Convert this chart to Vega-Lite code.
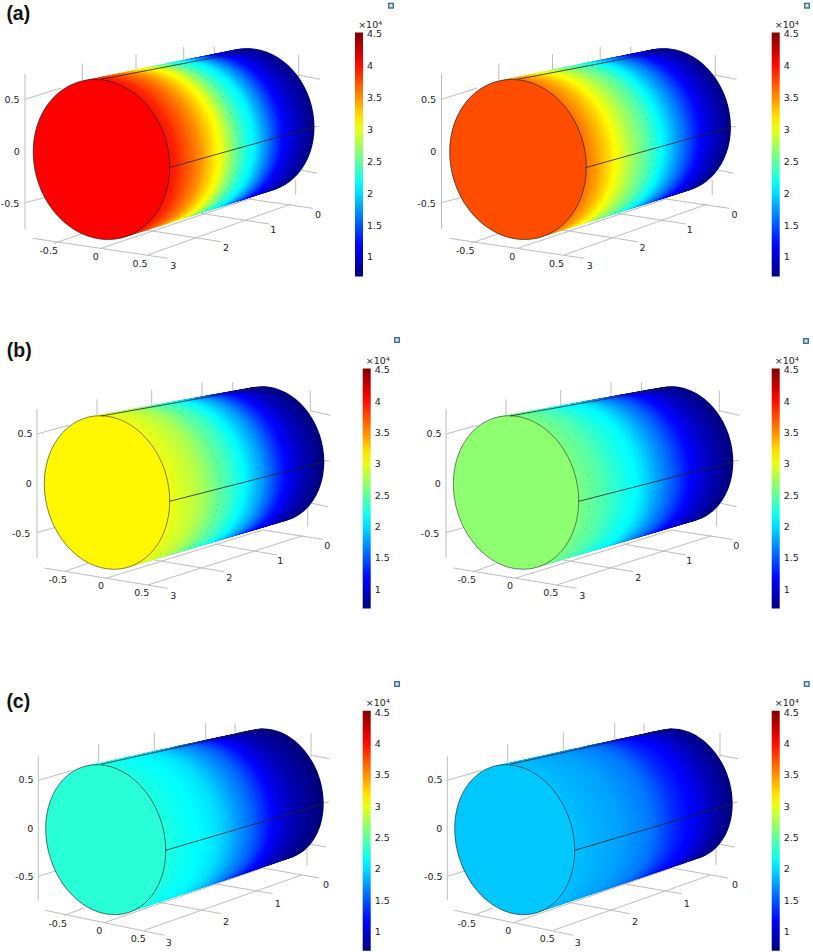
{
"$schema":"https://vega.github.io/schema/vega-lite/v6.json",
"padding":0,
"background":"white",
"spacing":0,
"resolve":{"scale":{"color":"independent","size":"independent"},"legend":{"color":"independent"}},
"config":{"view":{"stroke":null},"concat":{"spacing":0},"text":{"font":"DejaVu Sans"},"legend":{"titleFont":"DejaVu Sans","labelFont":"DejaVu Sans"}},
"datasets":{
"slices":[
{"s":0,"xa":151.5,"ya":39.3,"xb":161.8,"yb":38.3,"xc":165.5,"yc":45.6,"a1":0.72,"a2":0.72,"b1":0.68,"b2":0.7,"c1":0.67,"c2":0.7},
{"s":0.0375,"xa":149.6,"ya":38.8,"xb":159.8,"yb":37.8,"xc":163.5,"yc":45.1,"a1":0.745,"a2":0.745,"b1":0.7,"b2":0.715,"c1":0.685,"c2":0.72},
{"s":0.075,"xa":147.7,"ya":38.3,"xb":157.8,"yb":37.3,"xc":161.4,"yc":44.5,"a1":0.77,"a2":0.77,"b1":0.72,"b2":0.73,"c1":0.7,"c2":0.74},
{"s":0.1125,"xa":145.8,"ya":37.8,"xb":155.8,"yb":36.9,"xc":159.3,"yc":43.9,"a1":0.795,"a2":0.795,"b1":0.745,"b2":0.75,"c1":0.715,"c2":0.76},
{"s":0.15,"xa":143.9,"ya":37.3,"xb":153.7,"yb":36.4,"xc":157.2,"yc":43.3,"a1":0.82,"a2":0.82,"b1":0.77,"b2":0.77,"c1":0.73,"c2":0.78},
{"s":0.1875,"xa":142,"ya":36.8,"xb":151.7,"yb":35.9,"xc":155.2,"yc":42.8,"a1":0.845,"a2":0.85,"b1":0.79,"b2":0.79,"c1":0.745,"c2":0.8},
{"s":0.225,"xa":140.1,"ya":36.3,"xb":149.7,"yb":35.4,"xc":153.1,"yc":42.2,"a1":0.87,"a2":0.88,"b1":0.81,"b2":0.81,"c1":0.76,"c2":0.82},
{"s":0.2625,"xa":138.3,"ya":35.8,"xb":147.7,"yb":35,"xc":151,"yc":41.6,"a1":0.895,"a2":0.905,"b1":0.835,"b2":0.83,"c1":0.775,"c2":0.845},
{"s":0.3,"xa":136.4,"ya":35.3,"xb":145.6,"yb":34.5,"xc":149,"yc":41,"a1":0.92,"a2":0.93,"b1":0.86,"b2":0.85,"c1":0.79,"c2":0.87},
{"s":0.3375,"xa":134.5,"ya":34.8,"xb":143.6,"yb":34,"xc":146.9,"yc":40.5,"a1":0.945,"a2":0.955,"b1":0.88,"b2":0.87,"c1":0.805,"c2":0.89},
{"s":0.375,"xa":132.6,"ya":34.3,"xb":141.6,"yb":33.5,"xc":144.8,"yc":39.9,"a1":0.97,"a2":0.98,"b1":0.9,"b2":0.89,"c1":0.82,"c2":0.91},
{"s":0.4125,"xa":130.7,"ya":33.9,"xb":139.6,"yb":33.1,"xc":142.8,"yc":39.3,"a1":1,"a2":1.015,"b1":0.925,"b2":0.91,"c1":0.835,"c2":0.935},
{"s":0.45,"xa":128.8,"ya":33.4,"xb":137.5,"yb":32.6,"xc":140.7,"yc":38.8,"a1":1.03,"a2":1.05,"b1":0.95,"b2":0.93,"c1":0.85,"c2":0.96},
{"s":0.4875,"xa":126.9,"ya":32.9,"xb":135.5,"yb":32.1,"xc":138.6,"yc":38.2,"a1":1.06,"a2":1.08,"b1":0.98,"b2":0.955,"c1":0.865,"c2":0.985},
{"s":0.525,"xa":125,"ya":32.4,"xb":133.5,"yb":31.6,"xc":136.5,"yc":37.6,"a1":1.09,"a2":1.11,"b1":1.01,"b2":0.98,"c1":0.88,"c2":1.01},
{"s":0.5625,"xa":123.1,"ya":31.9,"xb":131.5,"yb":31.1,"xc":134.5,"yc":37,"a1":1.125,"a2":1.14,"b1":1.045,"b2":1.005,"c1":0.9,"c2":1.035},
{"s":0.6,"xa":121.2,"ya":31.4,"xb":129.4,"yb":30.6,"xc":132.4,"yc":36.5,"a1":1.16,"a2":1.17,"b1":1.08,"b2":1.03,"c1":0.92,"c2":1.06},
{"s":0.6375,"xa":119.3,"ya":30.9,"xb":127.4,"yb":30.2,"xc":130.3,"yc":35.9,"a1":1.2,"a2":1.21,"b1":1.115,"b2":1.055,"c1":0.945,"c2":1.085},
{"s":0.675,"xa":117.4,"ya":30.4,"xb":125.4,"yb":29.7,"xc":128.3,"yc":35.3,"a1":1.24,"a2":1.25,"b1":1.15,"b2":1.08,"c1":0.97,"c2":1.11},
{"s":0.7125,"xa":115.5,"ya":29.9,"xb":123.4,"yb":29.2,"xc":126.2,"yc":34.8,"a1":1.3,"a2":1.295,"b1":1.185,"b2":1.11,"c1":0.995,"c2":1.135},
{"s":0.75,"xa":113.6,"ya":29.4,"xb":121.4,"yb":28.7,"xc":124.1,"yc":34.2,"a1":1.36,"a2":1.34,"b1":1.22,"b2":1.14,"c1":1.02,"c2":1.16},
{"s":0.7875,"xa":111.7,"ya":29,"xb":119.3,"yb":28.3,"xc":122,"yc":33.6,"a1":1.41,"a2":1.385,"b1":1.26,"b2":1.165,"c1":1.045,"c2":1.175},
{"s":0.825,"xa":109.8,"ya":28.5,"xb":117.3,"yb":27.8,"xc":120,"yc":33.1,"a1":1.46,"a2":1.43,"b1":1.3,"b2":1.19,"c1":1.07,"c2":1.19},
{"s":0.8625,"xa":108,"ya":28,"xb":115.3,"yb":27.3,"xc":118,"yc":32.5,"a1":1.52,"a2":1.475,"b1":1.345,"b2":1.225,"c1":1.1,"c2":1.21},
{"s":0.9,"xa":106.1,"ya":27.5,"xb":113.3,"yb":26.8,"xc":115.9,"yc":31.9,"a1":1.58,"a2":1.52,"b1":1.39,"b2":1.26,"c1":1.13,"c2":1.23},
{"s":0.9375,"xa":104.2,"ya":27,"xb":111.2,"yb":26.4,"xc":113.8,"yc":31.4,"a1":1.64,"a2":1.57,"b1":1.44,"b2":1.295,"c1":1.165,"c2":1.25},
{"s":0.975,"xa":102.3,"ya":26.5,"xb":109.2,"yb":25.9,"xc":111.7,"yc":30.8,"a1":1.7,"a2":1.62,"b1":1.49,"b2":1.33,"c1":1.2,"c2":1.27},
{"s":1.0125,"xa":100.4,"ya":26,"xb":107.2,"yb":25.4,"xc":109.6,"yc":30.2,"a1":1.75,"a2":1.66,"b1":1.54,"b2":1.37,"c1":1.235,"c2":1.29},
{"s":1.05,"xa":98.5,"ya":25.5,"xb":105.2,"yb":24.9,"xc":107.6,"yc":29.6,"a1":1.8,"a2":1.7,"b1":1.59,"b2":1.41,"c1":1.27,"c2":1.31},
{"s":1.0875,"xa":96.6,"ya":25,"xb":103.1,"yb":24.4,"xc":105.5,"yc":29.1,"a1":1.86,"a2":1.745,"b1":1.635,"b2":1.45,"c1":1.31,"c2":1.33},
{"s":1.125,"xa":94.7,"ya":24.5,"xb":101.1,"yb":23.9,"xc":103.4,"yc":28.5,"a1":1.92,"a2":1.79,"b1":1.68,"b2":1.49,"c1":1.35,"c2":1.35},
{"s":1.1625,"xa":92.8,"ya":24.1,"xb":99.1,"yb":23.5,"xc":101.4,"yc":28,"a1":1.985,"a2":1.835,"b1":1.73,"b2":1.525,"c1":1.385,"c2":1.375},
{"s":1.2,"xa":90.9,"ya":23.6,"xb":97.1,"yb":23,"xc":99.3,"yc":27.4,"a1":2.05,"a2":1.88,"b1":1.78,"b2":1.56,"c1":1.42,"c2":1.4},
{"s":1.2375,"xa":89,"ya":23.1,"xb":95,"yb":22.5,"xc":97.2,"yc":26.8,"a1":2.09,"a2":1.925,"b1":1.815,"b2":1.59,"c1":1.46,"c2":1.43},
{"s":1.275,"xa":87.1,"ya":22.6,"xb":93,"yb":22,"xc":95.2,"yc":26.2,"a1":2.13,"a2":1.97,"b1":1.85,"b2":1.62,"c1":1.5,"c2":1.46},
{"s":1.3125,"xa":85.2,"ya":22.1,"xb":91,"yb":21.6,"xc":93.1,"yc":25.7,"a1":2.165,"a2":2.015,"b1":1.89,"b2":1.655,"c1":1.535,"c2":1.485},
{"s":1.35,"xa":83.3,"ya":21.6,"xb":89,"yb":21.1,"xc":91,"yc":25.1,"a1":2.2,"a2":2.06,"b1":1.93,"b2":1.69,"c1":1.57,"c2":1.51},
{"s":1.3875,"xa":81.4,"ya":21.1,"xb":87,"yb":20.6,"xc":89,"yc":24.5,"a1":2.24,"a2":2.1,"b1":1.97,"b2":1.72,"c1":1.595,"c2":1.535},
{"s":1.425,"xa":79.5,"ya":20.6,"xb":84.9,"yb":20.1,"xc":86.9,"yc":23.9,"a1":2.28,"a2":2.14,"b1":2.01,"b2":1.75,"c1":1.62,"c2":1.56},
{"s":1.4625,"xa":77.7,"ya":20.1,"xb":82.9,"yb":19.7,"xc":84.8,"yc":23.4,"a1":2.33,"a2":2.18,"b1":2.05,"b2":1.785,"c1":1.65,"c2":1.585},
{"s":1.5,"xa":75.8,"ya":19.6,"xb":80.9,"yb":19.2,"xc":82.8,"yc":22.8,"a1":2.38,"a2":2.22,"b1":2.09,"b2":1.82,"c1":1.68,"c2":1.61},
{"s":1.5375,"xa":73.9,"ya":19.1,"xb":78.9,"yb":18.7,"xc":80.7,"yc":22.2,"a1":2.435,"a2":2.265,"b1":2.125,"b2":1.855,"c1":1.705,"c2":1.625},
{"s":1.575,"xa":72,"ya":18.6,"xb":76.9,"yb":18.2,"xc":78.6,"yc":21.7,"a1":2.49,"a2":2.31,"b1":2.16,"b2":1.89,"c1":1.73,"c2":1.64},
{"s":1.6125,"xa":70.1,"ya":18.2,"xb":74.8,"yb":17.7,"xc":76.6,"yc":21.1,"a1":2.545,"a2":2.35,"b1":2.19,"b2":1.925,"c1":1.755,"c2":1.65},
{"s":1.65,"xa":68.2,"ya":17.7,"xb":72.8,"yb":17.2,"xc":74.5,"yc":20.5,"a1":2.6,"a2":2.39,"b1":2.22,"b2":1.96,"c1":1.78,"c2":1.66},
{"s":1.6875,"xa":66.3,"ya":17.2,"xb":70.8,"yb":16.8,"xc":72.4,"yc":20,"a1":2.66,"a2":2.43,"b1":2.255,"b2":1.99,"c1":1.81,"c2":1.67},
{"s":1.725,"xa":64.4,"ya":16.7,"xb":68.8,"yb":16.3,"xc":70.3,"yc":19.4,"a1":2.72,"a2":2.47,"b1":2.29,"b2":2.02,"c1":1.84,"c2":1.68},
{"s":1.7625,"xa":62.5,"ya":16.2,"xb":66.7,"yb":15.8,"xc":68.3,"yc":18.8,"a1":2.785,"a2":2.5,"b1":2.32,"b2":2.05,"c1":1.865,"c2":1.69},
{"s":1.8,"xa":60.6,"ya":15.7,"xb":64.7,"yb":15.3,"xc":66.2,"yc":18.2,"a1":2.85,"a2":2.53,"b1":2.35,"b2":2.08,"c1":1.89,"c2":1.7},
{"s":1.8375,"xa":58.7,"ya":15.2,"xb":62.7,"yb":14.9,"xc":64.2,"yc":17.7,"a1":2.915,"a2":2.565,"b1":2.38,"b2":2.105,"c1":1.915,"c2":1.71},
{"s":1.875,"xa":56.8,"ya":14.7,"xb":60.7,"yb":14.4,"xc":62.1,"yc":17.1,"a1":2.98,"a2":2.6,"b1":2.41,"b2":2.13,"c1":1.94,"c2":1.72},
{"s":1.9125,"xa":54.9,"ya":14.2,"xb":58.6,"yb":13.9,"xc":60,"yc":16.5,"a1":3.03,"a2":2.635,"b1":2.435,"b2":2.145,"c1":1.965,"c2":1.73},
{"s":1.95,"xa":53,"ya":13.7,"xb":56.6,"yb":13.4,"xc":57.9,"yc":16,"a1":3.08,"a2":2.67,"b1":2.46,"b2":2.16,"c1":1.99,"c2":1.74},
{"s":1.9875,"xa":51.1,"ya":13.2,"xb":54.6,"yb":12.9,"xc":55.9,"yc":15.4,"a1":3.115,"a2":2.705,"b1":2.485,"b2":2.175,"c1":2.01,"c2":1.75},
{"s":2.025,"xa":49.2,"ya":12.8,"xb":52.6,"yb":12.4,"xc":53.8,"yc":14.8,"a1":3.15,"a2":2.74,"b1":2.51,"b2":2.19,"c1":2.03,"c2":1.76},
{"s":2.0625,"xa":47.3,"ya":12.3,"xb":50.5,"yb":12,"xc":51.7,"yc":14.2,"a1":3.195,"a2":2.775,"b1":2.54,"b2":2.205,"c1":2.04,"c2":1.77},
{"s":2.1,"xa":45.5,"ya":11.8,"xb":48.5,"yb":11.5,"xc":49.7,"yc":13.7,"a1":3.24,"a2":2.81,"b1":2.57,"b2":2.22,"c1":2.05,"c2":1.78},
{"s":2.1375,"xa":43.6,"ya":11.3,"xb":46.5,"yb":11,"xc":47.6,"yc":13.1,"a1":3.28,"a2":2.85,"b1":2.6,"b2":2.24,"c1":2.065,"c2":1.785},
{"s":2.175,"xa":41.7,"ya":10.8,"xb":44.5,"yb":10.5,"xc":45.5,"yc":12.5,"a1":3.32,"a2":2.89,"b1":2.63,"b2":2.26,"c1":2.08,"c2":1.79},
{"s":2.2125,"xa":39.8,"ya":10.3,"xb":42.5,"yb":10,"xc":43.5,"yc":12,"a1":3.36,"a2":2.925,"b1":2.66,"b2":2.275,"c1":2.09,"c2":1.795},
{"s":2.25,"xa":37.9,"ya":9.8,"xb":40.5,"yb":9.6,"xc":41.4,"yc":11.4,"a1":3.4,"a2":2.96,"b1":2.69,"b2":2.29,"c1":2.1,"c2":1.8},
{"s":2.2875,"xa":36,"ya":9.3,"xb":38.4,"yb":9.1,"xc":39.3,"yc":10.8,"a1":3.445,"a2":3,"b1":2.72,"b2":2.31,"c1":2.11,"c2":1.805},
{"s":2.325,"xa":34.1,"ya":8.8,"xb":36.4,"yb":8.6,"xc":37.2,"yc":10.3,"a1":3.49,"a2":3.04,"b1":2.75,"b2":2.33,"c1":2.12,"c2":1.81},
{"s":2.3625,"xa":32.2,"ya":8.3,"xb":34.4,"yb":8.2,"xc":35.2,"yc":9.7,"a1":3.52,"a2":3.075,"b1":2.775,"b2":2.35,"c1":2.125,"c2":1.815},
{"s":2.4,"xa":30.3,"ya":7.9,"xb":32.4,"yb":7.7,"xc":33.1,"yc":9.1,"a1":3.55,"a2":3.11,"b1":2.8,"b2":2.37,"c1":2.13,"c2":1.82},
{"s":2.4375,"xa":28.4,"ya":7.4,"xb":30.3,"yb":7.2,"xc":31,"yc":8.6,"a1":3.585,"a2":3.15,"b1":2.815,"b2":2.39,"c1":2.14,"c2":1.825},
{"s":2.475,"xa":26.5,"ya":6.9,"xb":28.3,"yb":6.7,"xc":29,"yc":8,"a1":3.62,"a2":3.19,"b1":2.83,"b2":2.41,"c1":2.15,"c2":1.83},
{"s":2.5125,"xa":24.6,"ya":6.4,"xb":26.3,"yb":6.2,"xc":26.9,"yc":7.4,"a1":3.65,"a2":3.225,"b1":2.85,"b2":2.43,"c1":2.155,"c2":1.835},
{"s":2.55,"xa":22.7,"ya":5.9,"xb":24.3,"yb":5.7,"xc":24.8,"yc":6.8,"a1":3.68,"a2":3.26,"b1":2.87,"b2":2.45,"c1":2.16,"c2":1.84},
{"s":2.5875,"xa":20.8,"ya":5.4,"xb":22.2,"yb":5.3,"xc":22.8,"yc":6.3,"a1":3.71,"a2":3.295,"b1":2.885,"b2":2.46,"c1":2.17,"c2":1.845},
{"s":2.625,"xa":18.9,"ya":4.9,"xb":20.2,"yb":4.8,"xc":20.7,"yc":5.7,"a1":3.74,"a2":3.33,"b1":2.9,"b2":2.47,"c1":2.18,"c2":1.85},
{"s":2.6625,"xa":17,"ya":4.4,"xb":18.2,"yb":4.3,"xc":18.6,"yc":5.1,"a1":3.77,"a2":3.365,"b1":2.915,"b2":2.485,"c1":2.185,"c2":1.855},
{"s":2.7,"xa":15.2,"ya":3.9,"xb":16.2,"yb":3.8,"xc":16.6,"yc":4.6,"a1":3.8,"a2":3.4,"b1":2.93,"b2":2.5,"c1":2.19,"c2":1.86},
{"s":2.7375,"xa":13.3,"ya":3.4,"xb":14.1,"yb":3.4,"xc":14.5,"yc":4,"a1":3.83,"a2":3.43,"b1":2.945,"b2":2.515,"c1":2.2,"c2":1.865},
{"s":2.775,"xa":11.4,"ya":2.9,"xb":12.1,"yb":2.9,"xc":12.4,"yc":3.4,"a1":3.86,"a2":3.46,"b1":2.96,"b2":2.53,"c1":2.21,"c2":1.87},
{"s":2.8125,"xa":9.5,"ya":2.4,"xb":10.1,"yb":2.4,"xc":10.4,"yc":2.9,"a1":3.89,"a2":3.49,"b1":2.975,"b2":2.54,"c1":2.215,"c2":1.875},
{"s":2.85,"xa":7.6,"ya":2,"xb":8.1,"yb":1.9,"xc":8.3,"yc":2.3,"a1":3.92,"a2":3.52,"b1":2.99,"b2":2.55,"c1":2.22,"c2":1.88},
{"s":2.8875,"xa":5.7,"ya":1.5,"xb":6,"yb":1.4,"xc":6.2,"yc":1.7,"a1":3.935,"a2":3.55,"b1":3.005,"b2":2.565,"c1":2.23,"c2":1.885},
{"s":2.925,"xa":3.8,"ya":1,"xb":4,"yb":1,"xc":4.1,"yc":1.1,"a1":3.95,"a2":3.58,"b1":3.02,"b2":2.58,"c1":2.24,"c2":1.89},
{"s":2.9625,"xa":1.9,"ya":0.5,"xb":2,"yb":0.5,"xc":2.1,"yc":0.6,"a1":3.96,"a2":3.6,"b1":3.04,"b2":2.6,"c1":2.25,"c2":1.9},
{"s":3,"xa":0,"ya":0,"xb":0,"yb":0,"xc":0,"yc":0,"a1":4.05,"a2":3.76,"b1":3.12,"b2":2.67,"c1":2.29,"c2":1.93}
],
"frameA":[
{"x":-76.5,"y":85.5,"x2":-76.5,"y2":-69.5},{"x":-19.2,"y":96.2,"x2":-19.2,"y2":79.5},{"x":34.5,"y":105.2,"x2":34.5,"y2":85.5},{"x":82.2,"y":112.8,"x2":82.2,"y2":94.5},{"x":112.8,"y":112.8,"x2":112.8,"y2":103.5},{"x":197.2,"y":104.5,"x2":197.2,"y2":79.5},{"x":194.2,"y":-20.5,"x2":194.2,"y2":-35.5},
{"x":-76.5,"y":60.2,"x2":-40.5,"y2":71.5},{"x":-76.5,"y":-43.2,"x2":-50.5,"y2":-36.5},{"x":196.5,"y":84.5,"x2":218.5,"y2":80.2},{"x":213,"y":32.8,"x2":218,"y2":32.8},{"x":194.5,"y":-9.5,"x2":215.5,"y2":-13.8},
{"x":-68.8,"y":-78.8,"x2":66.2,"y2":-98.8},{"x":99.5,"y":-53.8,"x2":167.8,"y2":-64.5},{"x":44.5,"y":-70.5,"x2":119.5,"y2":-82.2},{"x":147.5,"y":-39.5,"x2":211.2,"y2":-48.8},
{"x":-47.2,"y":-83.8,"x2":-17.5,"y2":-73.5},{"x":-0.5,"y":-88.8,"x2":149.5,"y2":-38.8},{"x":46.2,"y":-95.5,"x2":189.5,"y2":-44.5}
],
"frameB":[
{"x":-70,"y":83.2,"x2":-70,"y2":-65.8},{"x":-10,"y":93.2,"x2":-10,"y2":76.5},{"x":44.7,"y":102.5,"x2":44.7,"y2":84.2},{"x":95,"y":110.2,"x2":95,"y2":92.5},{"x":125.7,"y":110.2,"x2":125.7,"y2":100.8},{"x":203.3,"y":101.8,"x2":203.3,"y2":80.8},{"x":200.7,"y":-14.2,"x2":200.7,"y2":-34.2},
{"x":-70,"y":58.5,"x2":-37.7,"y2":67.5},{"x":-70,"y":-40.2,"x2":-49.3,"y2":-34.2},{"x":203.3,"y":81.8,"x2":223.3,"y2":77.2},{"x":217.3,"y":31.8,"x2":222.3,"y2":31.8},{"x":200.7,"y":-9.8,"x2":220.7,"y2":-14.2},
{"x":-62.7,"y":-75.5,"x2":60.7,"y2":-95.8},{"x":107.3,"y":-51.5,"x2":170,"y2":-62.5},{"x":47.3,"y":-67.5,"x2":117.3,"y2":-79.2},{"x":155.7,"y":-37.5,"x2":215.7,"y2":-46.8},
{"x":-42.7,"y":-79.2,"x2":-19.3,"y2":-70.8},{"x":-1,"y":-85.8,"x2":155.7,"y2":-37.5},{"x":40.7,"y":-92.5,"x2":195.7,"y2":-43.2}
],
"frameC":[
{"x":-67.4,"y":83.4,"x2":-67.4,"y2":-60.6},{"x":-7,"y":95.4,"x2":-7,"y2":76},{"x":48.6,"y":107,"x2":48.6,"y2":84.4},{"x":100,"y":117,"x2":100,"y2":97.7},{"x":129.3,"y":116,"x2":129.3,"y2":107.7},{"x":205.3,"y":106.7,"x2":205.3,"y2":82.7},{"x":201.3,"y":-9,"x2":201.3,"y2":-25.6},
{"x":-67.4,"y":59.4,"x2":-33,"y2":69.4},{"x":-67.4,"y":-36.6,"x2":-48,"y2":-30.6},{"x":205.3,"y":84.4,"x2":223.6,"y2":81},{"x":218,"y":37,"x2":223,"y2":37.7},{"x":201.3,"y":-4,"x2":220.3,"y2":-7.3},
{"x":-60.4,"y":-70.6,"x2":58.6,"y2":-95.6},{"x":108.6,"y":-44,"x2":167,"y2":-54},{"x":52,"y":-62.3,"x2":115.3,"y2":-74},{"x":157,"y":-28.3,"x2":213.6,"y2":-38.3},
{"x":-41.4,"y":-75.6,"x2":-21.4,"y2":-68.3},{"x":-1.4,"y":-83,"x2":157,"y2":-28.3},{"x":38.6,"y":-90.6,"x2":195.3,"y2":-35.6}
],
"edgesA":[{"x":-0.5,"y":80.2,"x2":147.5,"y2":108.5},{"x":68,"y":-8,"x2":213,"y2":32.5}],
"edgesB":[{"x":-6,"y":76.5,"x2":155.7,"y2":105.2},{"x":62.7,"y":-8.8,"x2":217.3,"y2":30.8}],
"edgesC":[{"x":-4.7,"y":75.4,"x2":157,"y2":111},{"x":60,"y":-10.6,"x2":218,"y2":36}],
"ticksA":[{"x":-89.5,"y":59.5,"label":"0.5"},{"x":-84.8,"y":7.5,"label":"0"},{"x":-91.5,"y":-44.5,"label":"-0.5"},{"x":-52.8,"y":-91.5,"label":"-0.5"},{"x":-5.8,"y":-97.8,"label":"0"},{"x":38.5,"y":-104.5,"label":"0.5"},{"x":71.8,"y":-106.8,"label":"3"},{"x":124.5,"y":-88.2,"label":"2"},{"x":171.8,"y":-70.5,"label":"1"},{"x":216.5,"y":-55.2,"label":"0"}],
"ticksB":[{"x":-82,"y":58.5,"label":"0.5"},{"x":-78.3,"y":8.5,"label":"0"},{"x":-86,"y":-41.5,"label":"-0.5"},{"x":-49.3,"y":-87.8,"label":"-0.5"},{"x":-6,"y":-93.8,"label":"0"},{"x":34.7,"y":-100.8,"label":"0.5"},{"x":66.3,"y":-103.2,"label":"3"},{"x":122.3,"y":-85.2,"label":"2"},{"x":173.3,"y":-68.8,"label":"1"},{"x":220.3,"y":-53.5,"label":"0"}],
"ticksC":[{"x":-79.7,"y":59.4,"label":"0.5"},{"x":-75.4,"y":11,"label":"0"},{"x":-81.4,"y":-37.3,"label":"-0.5"},{"x":-48,"y":-84,"label":"-0.5"},{"x":-6.4,"y":-91.6,"label":"0"},{"x":32.6,"y":-99.6,"label":"0.5"},{"x":63,"y":-103.3,"label":"3"},{"x":120.3,"y":-82.3,"label":"2"},{"x":172,"y":-64,"label":"1"},{"x":220.3,"y":-45.6,"label":"0"}]
},
"vconcat":[
{"spacing":0,"resolve":{"scale":{"color":"independent","size":"independent"},"legend":{"color":"independent"}},"hconcat":[
{"width":406,"height":336,
"encoding":{"x":{"field":"x","type":"quantitative","axis":null,"scale":{"domain":[-100.5,305.5],"nice":false}},"y":{"field":"y","type":"quantitative","axis":null,"scale":{"domain":[-176.5,159.5],"nice":false}}},
"layer":[
{"data":{"name":"frameA"},"mark":{"type":"rule","color":"#bdbdbd","strokeWidth":1},"encoding":{"x2":{"field":"x2"},"y2":{"field":"y2"}}},
{"data":{"name":"slices"},"mark":{"type":"point","filled":true,"opacity":1},"encoding":{"x":{"field":"xa","type":"quantitative","axis":null,"scale":{"domain":[-100.5,305.5],"nice":false}},"y":{"field":"ya","type":"quantitative","axis":null,"scale":{"domain":[-176.5,159.5],"nice":false}},"shape":{"value":"M0.683,0.075C0.683,0.515 0.377,0.838 0,0.797C-0.377,0.756 -0.683,0.365 -0.683,-0.075C-0.683,-0.515 -0.377,-0.838 0,-0.797C0.377,-0.756 0.683,-0.365 0.683,0.075Z"},"size":{"field":"s","type":"quantitative","legend":null,"scale":{"domain":[3,0],"range":[40000,32400]}},"color":{"field":"a1","type":"quantitative","scale":{"interpolate":"rgb","domain":[0.7,1.179,1.658,2.136,2.615,3.094,3.573,4.051,4.53],"range":["#00007f","#0000ff","#007fff","#00ffff","#7fff7f","#ffff00","#ff7f00","#ff0000","#7f0000"]},"legend":{"orient":"none","legendX":354,"legendY":20,"title":"×10⁴","titleFontSize":9.5,"titleFontWeight":"normal","titleColor":"#222","titlePadding":3,"titleAnchor":"end","gradientLength":244,"gradientThickness":8,"values":[1,1.5,2,2.5,3,3.5,4,4.5],"format":".2~g","labelFontSize":9.5,"labelColor":"#222","labelOffset":4}}}},
{"data":{"name":"slices"},"transform":[{"filter":{"field":"s","equal":1.575}}],"mark":{"type":"point","filled":false,"opacity":0.35,"color":"#222","strokeWidth":0.7,"strokeDash":[1,5]},"encoding":{"x":{"field":"xa","type":"quantitative","axis":null,"scale":{"domain":[-100.5,305.5],"nice":false}},"y":{"field":"ya","type":"quantitative","axis":null,"scale":{"domain":[-176.5,159.5],"nice":false}},"shape":{"value":"M0,-0.797C0.377,-0.756 0.683,-0.365 0.683,0.075C0.683,0.515 0.377,0.838 0,0.797"},"size":{"value":36390}}},
{"data":{"name":"slices"},"transform":[{"filter":{"field":"s","equal":3}}],"mark":{"type":"point","filled":false,"opacity":0.85,"color":"#222","strokeWidth":0.8},"encoding":{"x":{"field":"xa","type":"quantitative","axis":null,"scale":{"domain":[-100.5,305.5],"nice":false}},"y":{"field":"ya","type":"quantitative","axis":null,"scale":{"domain":[-176.5,159.5],"nice":false}},"shape":{"value":"M0.683,0.075C0.683,0.515 0.377,0.838 0,0.797C-0.377,0.756 -0.683,0.365 -0.683,-0.075C-0.683,-0.515 -0.377,-0.838 0,-0.797C0.377,-0.756 0.683,-0.365 0.683,0.075Z"},"size":{"value":40000}}},
{"data":{"name":"edgesA"},"mark":{"type":"rule","color":"#222","strokeWidth":0.8},"encoding":{"x2":{"field":"x2"},"y2":{"field":"y2"}}},
{"data":{"name":"ticksA"},"mark":{"type":"text","fontSize":9.5,"color":"#222"},"encoding":{"text":{"field":"label"}}},
{"data":{"values":[{"x":-83.2,"y":145.5,"label":"(a)"}]},"mark":{"type":"text","font":"Liberation Sans","fontWeight":"bold","fontSize":19.5,"color":"#111"},"encoding":{"text":{"field":"label"}}},
{"data":{"values":[{"x":289.5,"y":153.8}]},"mark":{"type":"point","shape":"square","filled":true,"opacity":1,"color":"#2f6fd0","size":36}},
{"data":{"values":[{"x":289.5,"y":153.8}]},"mark":{"type":"point","shape":"square","filled":true,"opacity":1,"color":"#ffe680","size":10}}
]},
{"width":407,"height":336,
"encoding":{"x":{"field":"x","type":"quantitative","axis":null,"scale":{"domain":[-111,296],"nice":false}},"y":{"field":"y","type":"quantitative","axis":null,"scale":{"domain":[-176.5,159.5],"nice":false}}},
"layer":[
{"data":{"name":"frameA"},"mark":{"type":"rule","color":"#bdbdbd","strokeWidth":1},"encoding":{"x2":{"field":"x2"},"y2":{"field":"y2"}}},
{"data":{"name":"slices"},"mark":{"type":"point","filled":true,"opacity":1},"encoding":{"x":{"field":"xa","type":"quantitative","axis":null,"scale":{"domain":[-111,296],"nice":false}},"y":{"field":"ya","type":"quantitative","axis":null,"scale":{"domain":[-176.5,159.5],"nice":false}},"shape":{"value":"M0.683,0.075C0.683,0.515 0.377,0.838 0,0.797C-0.377,0.756 -0.683,0.365 -0.683,-0.075C-0.683,-0.515 -0.377,-0.838 0,-0.797C0.377,-0.756 0.683,-0.365 0.683,0.075Z"},"size":{"field":"s","type":"quantitative","legend":null,"scale":{"domain":[3,0],"range":[40000,32400]}},"color":{"field":"a2","type":"quantitative","scale":{"interpolate":"rgb","domain":[0.7,1.179,1.658,2.136,2.615,3.094,3.573,4.051,4.53],"range":["#00007f","#0000ff","#007fff","#00ffff","#7fff7f","#ffff00","#ff7f00","#ff0000","#7f0000"]},"legend":{"orient":"none","legendX":364.7,"legendY":20,"title":"×10⁴","titleFontSize":9.5,"titleFontWeight":"normal","titleColor":"#222","titlePadding":3,"titleAnchor":"end","gradientLength":244,"gradientThickness":8,"values":[1,1.5,2,2.5,3,3.5,4,4.5],"format":".2~g","labelFontSize":9.5,"labelColor":"#222","labelOffset":4}}}},
{"data":{"name":"slices"},"transform":[{"filter":{"field":"s","equal":1.65}}],"mark":{"type":"point","filled":false,"opacity":0.35,"color":"#222","strokeWidth":0.7,"strokeDash":[1,5]},"encoding":{"x":{"field":"xa","type":"quantitative","axis":null,"scale":{"domain":[-111,296],"nice":false}},"y":{"field":"ya","type":"quantitative","axis":null,"scale":{"domain":[-176.5,159.5],"nice":false}},"shape":{"value":"M0,-0.797C0.377,-0.756 0.683,-0.365 0.683,0.075C0.683,0.515 0.377,0.838 0,0.797"},"size":{"value":36580}}},
{"data":{"name":"slices"},"transform":[{"filter":{"field":"s","equal":3}}],"mark":{"type":"point","filled":false,"opacity":0.85,"color":"#222","strokeWidth":0.8},"encoding":{"x":{"field":"xa","type":"quantitative","axis":null,"scale":{"domain":[-111,296],"nice":false}},"y":{"field":"ya","type":"quantitative","axis":null,"scale":{"domain":[-176.5,159.5],"nice":false}},"shape":{"value":"M0.683,0.075C0.683,0.515 0.377,0.838 0,0.797C-0.377,0.756 -0.683,0.365 -0.683,-0.075C-0.683,-0.515 -0.377,-0.838 0,-0.797C0.377,-0.756 0.683,-0.365 0.683,0.075Z"},"size":{"value":40000}}},
{"data":{"name":"edgesA"},"mark":{"type":"rule","color":"#222","strokeWidth":0.8},"encoding":{"x2":{"field":"x2"},"y2":{"field":"y2"}}},
{"data":{"name":"ticksA"},"mark":{"type":"text","fontSize":9.5,"color":"#222"},"encoding":{"text":{"field":"label"}}},
{"data":{"values":[{"x":289,"y":153.8}]},"mark":{"type":"point","shape":"square","filled":true,"opacity":1,"color":"#2f6fd0","size":36}},
{"data":{"values":[{"x":289,"y":153.8}]},"mark":{"type":"point","shape":"square","filled":true,"opacity":1,"color":"#ffe680","size":10}}
]}
]},
{"spacing":0,"resolve":{"scale":{"color":"independent","size":"independent"},"legend":{"color":"independent"}},"hconcat":[
{"width":406,"height":344,
"encoding":{"x":{"field":"x","type":"quantitative","axis":null,"scale":{"domain":[-106,300],"nice":false}},"y":{"field":"y","type":"quantitative","axis":null,"scale":{"domain":[-187.5,156.5],"nice":false}}},
"layer":[
{"data":{"name":"frameB"},"mark":{"type":"rule","color":"#bdbdbd","strokeWidth":1},"encoding":{"x2":{"field":"x2"},"y2":{"field":"y2"}}},
{"data":{"name":"slices"},"mark":{"type":"point","filled":true,"opacity":1},"encoding":{"x":{"field":"xb","type":"quantitative","axis":null,"scale":{"domain":[-106,300],"nice":false}},"y":{"field":"yb","type":"quantitative","axis":null,"scale":{"domain":[-187.5,156.5],"nice":false}},"shape":{"value":"M0.627,0.085C0.627,0.506 0.346,0.81 0,0.763C-0.346,0.716 -0.627,0.336 -0.627,-0.085C-0.627,-0.506 -0.346,-0.81 0,-0.763C0.346,-0.716 0.627,-0.336 0.627,0.085Z"},"size":{"field":"s","type":"quantitative","legend":null,"scale":{"domain":[3,0],"range":[40000,31330]}},"color":{"field":"b1","type":"quantitative","scale":{"interpolate":"rgb","domain":[0.7,1.179,1.658,2.136,2.615,3.094,3.573,4.051,4.53],"range":["#00007f","#0000ff","#007fff","#00ffff","#7fff7f","#ffff00","#ff7f00","#ff0000","#7f0000"]},"legend":{"orient":"none","legendX":361.7,"legendY":20,"title":"×10⁴","titleFontSize":9.5,"titleFontWeight":"normal","titleColor":"#222","titlePadding":3,"titleAnchor":"end","gradientLength":240,"gradientThickness":8,"values":[1,1.5,2,2.5,3,3.5,4,4.5],"format":".2~g","labelFontSize":9.5,"labelColor":"#222","labelOffset":4}}}},
{"data":{"name":"slices"},"transform":[{"filter":{"field":"s","equal":2.025}}],"mark":{"type":"point","filled":false,"opacity":0.35,"color":"#222","strokeWidth":0.7,"strokeDash":[1,5]},"encoding":{"x":{"field":"xb","type":"quantitative","axis":null,"scale":{"domain":[-106,300],"nice":false}},"y":{"field":"yb","type":"quantitative","axis":null,"scale":{"domain":[-187.5,156.5],"nice":false}},"shape":{"value":"M0,-0.763C0.346,-0.716 0.627,-0.336 0.627,0.085C0.627,0.506 0.346,0.81 0,0.763"},"size":{"value":37180}}},
{"data":{"name":"slices"},"transform":[{"filter":{"field":"s","equal":3}}],"mark":{"type":"point","filled":false,"opacity":0.7,"color":"#222","strokeWidth":0.8},"encoding":{"x":{"field":"xb","type":"quantitative","axis":null,"scale":{"domain":[-106,300],"nice":false}},"y":{"field":"yb","type":"quantitative","axis":null,"scale":{"domain":[-187.5,156.5],"nice":false}},"shape":{"value":"M0.627,0.085C0.627,0.506 0.346,0.81 0,0.763C-0.346,0.716 -0.627,0.336 -0.627,-0.085C-0.627,-0.506 -0.346,-0.81 0,-0.763C0.346,-0.716 0.627,-0.336 0.627,0.085Z"},"size":{"value":40000}}},
{"data":{"name":"edgesB"},"mark":{"type":"rule","color":"#222","strokeWidth":0.8},"encoding":{"x2":{"field":"x2"},"y2":{"field":"y2"}}},
{"data":{"name":"ticksB"},"mark":{"type":"text","fontSize":9.5,"color":"#222"},"encoding":{"text":{"field":"label"}}},
{"data":{"values":[{"x":-87.7,"y":141.5,"label":"(b)"}]},"mark":{"type":"text","font":"Liberation Sans","fontWeight":"bold","fontSize":19.5,"color":"#111"},"encoding":{"text":{"field":"label"}}},
{"data":{"values":[{"x":290,"y":152.5}]},"mark":{"type":"point","shape":"square","filled":true,"opacity":1,"color":"#2f6fd0","size":36}},
{"data":{"values":[{"x":290,"y":152.5}]},"mark":{"type":"point","shape":"square","filled":true,"opacity":1,"color":"#ffe680","size":10}}
]},
{"width":407,"height":344,
"encoding":{"x":{"field":"x","type":"quantitative","axis":null,"scale":{"domain":[-109,298],"nice":false}},"y":{"field":"y","type":"quantitative","axis":null,"scale":{"domain":[-187.5,156.5],"nice":false}}},
"layer":[
{"data":{"name":"frameB"},"mark":{"type":"rule","color":"#bdbdbd","strokeWidth":1},"encoding":{"x2":{"field":"x2"},"y2":{"field":"y2"}}},
{"data":{"name":"slices"},"mark":{"type":"point","filled":true,"opacity":1},"encoding":{"x":{"field":"xb","type":"quantitative","axis":null,"scale":{"domain":[-109,298],"nice":false}},"y":{"field":"yb","type":"quantitative","axis":null,"scale":{"domain":[-187.5,156.5],"nice":false}},"shape":{"value":"M0.627,0.085C0.627,0.506 0.346,0.81 0,0.763C-0.346,0.716 -0.627,0.336 -0.627,-0.085C-0.627,-0.506 -0.346,-0.81 0,-0.763C0.346,-0.716 0.627,-0.336 0.627,0.085Z"},"size":{"field":"s","type":"quantitative","legend":null,"scale":{"domain":[3,0],"range":[40000,31330]}},"color":{"field":"b2","type":"quantitative","scale":{"interpolate":"rgb","domain":[0.7,1.179,1.658,2.136,2.615,3.094,3.573,4.051,4.53],"range":["#00007f","#0000ff","#007fff","#00ffff","#7fff7f","#ffff00","#ff7f00","#ff0000","#7f0000"]},"legend":{"orient":"none","legendX":364.7,"legendY":20,"title":"×10⁴","titleFontSize":9.5,"titleFontWeight":"normal","titleColor":"#222","titlePadding":3,"titleAnchor":"end","gradientLength":240,"gradientThickness":8,"values":[1,1.5,2,2.5,3,3.5,4,4.5],"format":".2~g","labelFontSize":9.5,"labelColor":"#222","labelOffset":4}}}},
{"data":{"name":"slices"},"transform":[{"filter":{"field":"s","equal":2.775}}],"mark":{"type":"point","filled":false,"opacity":0.35,"color":"#222","strokeWidth":0.7,"strokeDash":[1,5]},"encoding":{"x":{"field":"xb","type":"quantitative","axis":null,"scale":{"domain":[-109,298],"nice":false}},"y":{"field":"yb","type":"quantitative","axis":null,"scale":{"domain":[-187.5,156.5],"nice":false}},"shape":{"value":"M0,-0.763C0.346,-0.716 0.627,-0.336 0.627,0.085C0.627,0.506 0.346,0.81 0,0.763"},"size":{"value":39350}}},
{"data":{"name":"slices"},"transform":[{"filter":{"field":"s","equal":3}}],"mark":{"type":"point","filled":false,"opacity":0.7,"color":"#222","strokeWidth":0.8},"encoding":{"x":{"field":"xb","type":"quantitative","axis":null,"scale":{"domain":[-109,298],"nice":false}},"y":{"field":"yb","type":"quantitative","axis":null,"scale":{"domain":[-187.5,156.5],"nice":false}},"shape":{"value":"M0.627,0.085C0.627,0.506 0.346,0.81 0,0.763C-0.346,0.716 -0.627,0.336 -0.627,-0.085C-0.627,-0.506 -0.346,-0.81 0,-0.763C0.346,-0.716 0.627,-0.336 0.627,0.085Z"},"size":{"value":40000}}},
{"data":{"name":"edgesB"},"mark":{"type":"rule","color":"#222","strokeWidth":0.8},"encoding":{"x2":{"field":"x2"},"y2":{"field":"y2"}}},
{"data":{"name":"ticksB"},"mark":{"type":"text","fontSize":9.5,"color":"#222"},"encoding":{"text":{"field":"label"}}},
{"data":{"values":[{"x":290,"y":151.5}]},"mark":{"type":"point","shape":"square","filled":true,"opacity":1,"color":"#2f6fd0","size":36}},
{"data":{"values":[{"x":290,"y":151.5}]},"mark":{"type":"point","shape":"square","filled":true,"opacity":1,"color":"#ffe680","size":10}}
]}
]},
{"spacing":0,"resolve":{"scale":{"color":"independent","size":"independent"},"legend":{"color":"independent"}},"hconcat":[
{"width":406,"height":272,
"encoding":{"x":{"field":"x","type":"quantitative","axis":null,"scale":{"domain":[-104.7,301.3],"nice":false}},"y":{"field":"y","type":"quantitative","axis":null,"scale":{"domain":[-114.3,157.7],"nice":false}}},
"layer":[
{"data":{"name":"frameC"},"mark":{"type":"rule","color":"#bdbdbd","strokeWidth":1},"encoding":{"x2":{"field":"x2"},"y2":{"field":"y2"}}},
{"data":{"name":"slices"},"mark":{"type":"point","filled":true,"opacity":1},"encoding":{"x":{"field":"xc","type":"quantitative","axis":null,"scale":{"domain":[-104.7,301.3],"nice":false}},"y":{"field":"yc","type":"quantitative","axis":null,"scale":{"domain":[-114.3,157.7],"nice":false}},"shape":{"value":"M0.6,0.11C0.6,0.52 0.331,0.803 0,0.742C-0.331,0.681 -0.6,0.3 -0.6,-0.11C-0.6,-0.52 -0.331,-0.803 0,-0.742C0.331,-0.681 0.6,-0.3 0.6,0.11Z"},"size":{"field":"s","type":"quantitative","legend":null,"scale":{"domain":[3,0],"range":[40000,30625]}},"color":{"field":"c1","type":"quantitative","scale":{"interpolate":"rgb","domain":[0.7,1.179,1.658,2.136,2.615,3.094,3.573,4.051,4.53],"range":["#00007f","#0000ff","#007fff","#00ffff","#7fff7f","#ffff00","#ff7f00","#ff0000","#7f0000"]},"legend":{"orient":"none","legendX":361.7,"legendY":16.3,"title":"×10⁴","titleFontSize":9.5,"titleFontWeight":"normal","titleColor":"#222","titlePadding":3,"titleAnchor":"end","gradientLength":240,"gradientThickness":8,"values":[1,1.5,2,2.5,3,3.5,4,4.5],"format":".2~g","labelFontSize":9.5,"labelColor":"#222","labelOffset":4}}}},
{"data":{"name":"slices"},"transform":[{"filter":{"field":"s","equal":3}}],"mark":{"type":"point","filled":false,"opacity":0.8,"color":"#222","strokeWidth":0.8},"encoding":{"x":{"field":"xc","type":"quantitative","axis":null,"scale":{"domain":[-104.7,301.3],"nice":false}},"y":{"field":"yc","type":"quantitative","axis":null,"scale":{"domain":[-114.3,157.7],"nice":false}},"shape":{"value":"M0.6,0.11C0.6,0.52 0.331,0.803 0,0.742C-0.331,0.681 -0.6,0.3 -0.6,-0.11C-0.6,-0.52 -0.331,-0.803 0,-0.742C0.331,-0.681 0.6,-0.3 0.6,0.11Z"},"size":{"value":40000}}},
{"data":{"name":"edgesC"},"mark":{"type":"rule","color":"#222","strokeWidth":0.8},"encoding":{"x2":{"field":"x2"},"y2":{"field":"y2"}}},
{"data":{"name":"ticksC"},"mark":{"type":"text","fontSize":9.5,"color":"#222"},"encoding":{"text":{"field":"label"}}},
{"data":{"values":[{"x":-87.4,"y":137.7,"label":"(c)"}]},"mark":{"type":"text","font":"Liberation Sans","fontWeight":"bold","fontSize":19.5,"color":"#111"},"encoding":{"text":{"field":"label"}}},
{"data":{"values":[{"x":291.3,"y":155.7}]},"mark":{"type":"point","shape":"square","filled":true,"opacity":1,"color":"#2f6fd0","size":36}},
{"data":{"values":[{"x":291.3,"y":155.7}]},"mark":{"type":"point","shape":"square","filled":true,"opacity":1,"color":"#ffe680","size":10}}
]},
{"width":407,"height":272,
"encoding":{"x":{"field":"x","type":"quantitative","axis":null,"scale":{"domain":[-107.7,299.3],"nice":false}},"y":{"field":"y","type":"quantitative","axis":null,"scale":{"domain":[-114.3,157.7],"nice":false}}},
"layer":[
{"data":{"name":"frameC"},"mark":{"type":"rule","color":"#bdbdbd","strokeWidth":1},"encoding":{"x2":{"field":"x2"},"y2":{"field":"y2"}}},
{"data":{"name":"slices"},"mark":{"type":"point","filled":true,"opacity":1},"encoding":{"x":{"field":"xc","type":"quantitative","axis":null,"scale":{"domain":[-107.7,299.3],"nice":false}},"y":{"field":"yc","type":"quantitative","axis":null,"scale":{"domain":[-114.3,157.7],"nice":false}},"shape":{"value":"M0.6,0.11C0.6,0.52 0.331,0.803 0,0.742C-0.331,0.681 -0.6,0.3 -0.6,-0.11C-0.6,-0.52 -0.331,-0.803 0,-0.742C0.331,-0.681 0.6,-0.3 0.6,0.11Z"},"size":{"field":"s","type":"quantitative","legend":null,"scale":{"domain":[3,0],"range":[40000,30625]}},"color":{"field":"c2","type":"quantitative","scale":{"interpolate":"rgb","domain":[0.7,1.179,1.658,2.136,2.615,3.094,3.573,4.051,4.53],"range":["#00007f","#0000ff","#007fff","#00ffff","#7fff7f","#ffff00","#ff7f00","#ff0000","#7f0000"]},"legend":{"orient":"none","legendX":364.7,"legendY":16.3,"title":"×10⁴","titleFontSize":9.5,"titleFontWeight":"normal","titleColor":"#222","titlePadding":3,"titleAnchor":"end","gradientLength":240,"gradientThickness":8,"values":[1,1.5,2,2.5,3,3.5,4,4.5],"format":".2~g","labelFontSize":9.5,"labelColor":"#222","labelOffset":4}}}},
{"data":{"name":"slices"},"transform":[{"filter":{"field":"s","equal":3}}],"mark":{"type":"point","filled":false,"opacity":0.8,"color":"#222","strokeWidth":0.8},"encoding":{"x":{"field":"xc","type":"quantitative","axis":null,"scale":{"domain":[-107.7,299.3],"nice":false}},"y":{"field":"yc","type":"quantitative","axis":null,"scale":{"domain":[-114.3,157.7],"nice":false}},"shape":{"value":"M0.6,0.11C0.6,0.52 0.331,0.803 0,0.742C-0.331,0.681 -0.6,0.3 -0.6,-0.11C-0.6,-0.52 -0.331,-0.803 0,-0.742C0.331,-0.681 0.6,-0.3 0.6,0.11Z"},"size":{"value":40000}}},
{"data":{"name":"edgesC"},"mark":{"type":"rule","color":"#222","strokeWidth":0.8},"encoding":{"x2":{"field":"x2"},"y2":{"field":"y2"}}},
{"data":{"name":"ticksC"},"mark":{"type":"text","fontSize":9.5,"color":"#222"},"encoding":{"text":{"field":"label"}}},
{"data":{"values":[{"x":292,"y":155.7}]},"mark":{"type":"point","shape":"square","filled":true,"opacity":1,"color":"#2f6fd0","size":36}},
{"data":{"values":[{"x":292,"y":155.7}]},"mark":{"type":"point","shape":"square","filled":true,"opacity":1,"color":"#ffe680","size":10}}
]}
]}
]
}
